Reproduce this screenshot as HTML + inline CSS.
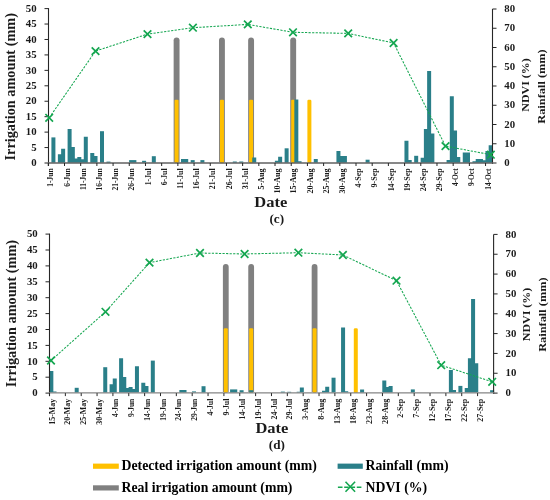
<!DOCTYPE html><html><head><meta charset="utf-8"><style>
html,body{margin:0;padding:0;background:#fff;width:550px;height:500px;overflow:hidden}
svg{display:block;will-change:transform}
text{font-family:'Liberation Serif', serif;font-weight:bold;fill:#1a1a1a}
.tl{font-size:10.8px}
.dl{font-size:7.5px}
.yt{font-size:14px}
.yt2{font-size:11px}
.dt{font-size:15px}
.cap{font-size:13.2px;font-weight:bold}
.lg{font-size:14px;fill:#000}
</style></head><body>
<svg width="550" height="500" viewBox="0 0 550 500">
<path d="M173.64 162.2 V40.35 A2.95 2.95 0 0 1 179.54 40.35 V162.2 Z" fill="#808080"/>
<rect x="174.59" y="99.8" width="4" height="63.4" rx="1" fill="#ffc000"/>
<path d="M218.99 162.2 V40.35 A2.95 2.95 0 0 1 224.89 40.35 V162.2 Z" fill="#808080"/>
<rect x="219.94" y="99.8" width="4" height="63.4" rx="1" fill="#ffc000"/>
<path d="M248.14 162.2 V40.35 A2.95 2.95 0 0 1 254.04 40.35 V162.2 Z" fill="#808080"/>
<rect x="249.09" y="99.8" width="4" height="63.4" rx="1" fill="#ffc000"/>
<path d="M290.24 162.2 V40.35 A2.95 2.95 0 0 1 296.14 40.35 V162.2 Z" fill="#808080"/>
<rect x="291.19" y="99.8" width="4" height="63.4" rx="1" fill="#ffc000"/>
<rect x="307.39" y="99.8" width="4" height="63.4" rx="1.2" fill="#ffc000"/>
<path d="M51.41 162.7V137.4H55.41V162.7Z" fill="#2a7f89"/>
<path d="M57.89 162.7V154.2H61.13V148.8H61.89V148.8H65.13V162.7Z" fill="#2a7f89"/>
<path d="M67.6 162.7V129H70.84V129H71.6V147H74.08V147H74.84V158.6H77.32V157.1H78.08V157.1H80.56V157.1H81.32V159.2H83.8V136.8H84.56V136.8H87.8V162.7Z" fill="#2a7f89"/>
<path d="M90.28 162.7V153H93.52V153H94.28V156H97.52V162.7Z" fill="#2a7f89"/>
<path d="M99.99 162.7V131.2H103.99V162.7Z" fill="#2a7f89"/>
<path d="M106.47 162.7V161.6H110.47V162.7Z" fill="#2a7f89"/>
<path d="M129.14 162.7V160.1H132.38V160.1H133.14V160.1H136.38V162.7Z" fill="#2a7f89"/>
<path d="M142.1 162.7V160.8H146.1V162.7Z" fill="#2a7f89"/>
<path d="M151.82 162.7V156.2H155.82V162.7Z" fill="#2a7f89"/>
<path d="M180.97 162.7V159H184.21V159H184.97V159H188.21V162.7Z" fill="#2a7f89"/>
<path d="M190.69 162.7V160.1H194.69V162.7Z" fill="#2a7f89"/>
<path d="M200.4 162.7V160.1H204.4V162.7Z" fill="#2a7f89"/>
<path d="M232.79 162.7V161.5H236.79V162.7Z" fill="#2a7f89"/>
<path d="M239.27 162.7V161.5H243.27V162.7Z" fill="#2a7f89"/>
<path d="M252.23 162.7V157.5H256.23V162.7Z" fill="#2a7f89"/>
<path d="M274.9 162.7V160.8H278.14V156.8H278.9V156.8H282.14V162.7Z" fill="#2a7f89"/>
<path d="M284.62 162.7V148.3H288.62V162.7Z" fill="#2a7f89"/>
<path d="M294.33 162.7V99.4H297.57V99.4H298.33V161.2H301.57V162.7Z" fill="#2a7f89"/>
<path d="M313.77 162.7V159H317.77V162.7Z" fill="#2a7f89"/>
<path d="M336.44 162.7V150.9H339.68V150.9H340.44V156.1H342.92V156.1H343.68V156.1H346.92V162.7Z" fill="#2a7f89"/>
<path d="M365.59 162.7V159.7H369.59V162.7Z" fill="#2a7f89"/>
<path d="M404.46 162.7V140.7H407.7V140.7H408.46V160H411.7V162.7Z" fill="#2a7f89"/>
<path d="M414.18 162.7V155.8H418.18V162.7Z" fill="#2a7f89"/>
<path d="M420.65 162.7V157.8H423.89V129H424.65V129H427.13V71.1H427.89V71.1H430.37V71.1H431.13V133.6H434.37V162.7Z" fill="#2a7f89"/>
<path d="M446.57 162.7V160H449.81V96.3H450.57V96.3H453.04V96.3H453.81V130.4H456.28V130.4H457.04V157.1H460.28V162.7Z" fill="#2a7f89"/>
<path d="M462.76 162.7V152.6H466V152.4H466.76V152.4H470V162.7Z" fill="#2a7f89"/>
<path d="M472.48 162.7V161.2H475.72V158.9H476.48V158.9H478.96V158.9H479.72V158.9H482.2V158.9H482.96V160.2H485.43V151.1H486.2V151.1H488.67V145.2H489.43V145.2H492.67V162.7Z" fill="#2a7f89"/>
<line x1="48.5" y1="8.1" x2="48.5" y2="166" stroke="#262626" stroke-width="1.1"/>
<line x1="492.5" y1="9" x2="492.5" y2="164" stroke="#262626" stroke-width="1.1"/>
<line x1="44.5" y1="163" x2="48.5" y2="163" stroke="#262626" stroke-width="1"/>
<text x="36.6" y="166.2" class="tl" text-anchor="end">0</text>
<line x1="44.5" y1="147.56" x2="48.5" y2="147.56" stroke="#262626" stroke-width="1"/>
<text x="36.6" y="150.76" class="tl" text-anchor="end">5</text>
<line x1="44.5" y1="132.12" x2="48.5" y2="132.12" stroke="#262626" stroke-width="1"/>
<text x="36.6" y="135.32" class="tl" text-anchor="end">10</text>
<line x1="44.5" y1="116.68" x2="48.5" y2="116.68" stroke="#262626" stroke-width="1"/>
<text x="36.6" y="119.88" class="tl" text-anchor="end">15</text>
<line x1="44.5" y1="101.24" x2="48.5" y2="101.24" stroke="#262626" stroke-width="1"/>
<text x="36.6" y="104.44" class="tl" text-anchor="end">20</text>
<line x1="44.5" y1="85.8" x2="48.5" y2="85.8" stroke="#262626" stroke-width="1"/>
<text x="36.6" y="89" class="tl" text-anchor="end">25</text>
<line x1="44.5" y1="70.36" x2="48.5" y2="70.36" stroke="#262626" stroke-width="1"/>
<text x="36.6" y="73.56" class="tl" text-anchor="end">30</text>
<line x1="44.5" y1="54.92" x2="48.5" y2="54.92" stroke="#262626" stroke-width="1"/>
<text x="36.6" y="58.12" class="tl" text-anchor="end">35</text>
<line x1="44.5" y1="39.48" x2="48.5" y2="39.48" stroke="#262626" stroke-width="1"/>
<text x="36.6" y="42.68" class="tl" text-anchor="end">40</text>
<line x1="44.5" y1="24.04" x2="48.5" y2="24.04" stroke="#262626" stroke-width="1"/>
<text x="36.6" y="27.24" class="tl" text-anchor="end">45</text>
<line x1="44.5" y1="8.6" x2="48.5" y2="8.6" stroke="#262626" stroke-width="1"/>
<text x="36.6" y="11.8" class="tl" text-anchor="end">50</text>
<line x1="492.5" y1="163" x2="496.5" y2="163" stroke="#262626" stroke-width="1"/>
<text x="504.3" y="166.2" class="tl">0</text>
<line x1="492.5" y1="143.75" x2="496.5" y2="143.75" stroke="#262626" stroke-width="1"/>
<text x="504.3" y="146.95" class="tl">10</text>
<line x1="492.5" y1="124.5" x2="496.5" y2="124.5" stroke="#262626" stroke-width="1"/>
<text x="504.3" y="127.7" class="tl">20</text>
<line x1="492.5" y1="105.25" x2="496.5" y2="105.25" stroke="#262626" stroke-width="1"/>
<text x="504.3" y="108.45" class="tl">30</text>
<line x1="492.5" y1="86" x2="496.5" y2="86" stroke="#262626" stroke-width="1"/>
<text x="504.3" y="89.2" class="tl">40</text>
<line x1="492.5" y1="66.75" x2="496.5" y2="66.75" stroke="#262626" stroke-width="1"/>
<text x="504.3" y="69.95" class="tl">50</text>
<line x1="492.5" y1="47.5" x2="496.5" y2="47.5" stroke="#262626" stroke-width="1"/>
<text x="504.3" y="50.7" class="tl">60</text>
<line x1="492.5" y1="28.25" x2="496.5" y2="28.25" stroke="#262626" stroke-width="1"/>
<text x="504.3" y="31.45" class="tl">70</text>
<line x1="492.5" y1="9" x2="496.5" y2="9" stroke="#262626" stroke-width="1"/>
<text x="504.3" y="12.2" class="tl">80</text>
<line x1="48" y1="163" x2="493" y2="163" stroke="#606060" stroke-width="1.5"/>
<line x1="48.3" y1="163" x2="48.3" y2="166" stroke="#262626" stroke-width="1"/>
<text transform="translate(53.4 168.4) rotate(-90) scale(1.0 1)" class="dl" text-anchor="end">1-Jun</text>
<line x1="64.5" y1="163" x2="64.5" y2="166" stroke="#262626" stroke-width="1"/>
<text transform="translate(69.59 168.4) rotate(-90) scale(1.0 1)" class="dl" text-anchor="end">6-Jun</text>
<line x1="80.69" y1="163" x2="80.69" y2="166" stroke="#262626" stroke-width="1"/>
<text transform="translate(85.79 168.4) rotate(-90) scale(1.0 1)" class="dl" text-anchor="end">11-Jun</text>
<line x1="96.88" y1="163" x2="96.88" y2="166" stroke="#262626" stroke-width="1"/>
<text transform="translate(101.98 168.4) rotate(-90) scale(1.0 1)" class="dl" text-anchor="end">16-Jun</text>
<line x1="113.08" y1="163" x2="113.08" y2="166" stroke="#262626" stroke-width="1"/>
<text transform="translate(118.18 168.4) rotate(-90) scale(1.0 1)" class="dl" text-anchor="end">21-Jun</text>
<line x1="129.27" y1="163" x2="129.27" y2="166" stroke="#262626" stroke-width="1"/>
<text transform="translate(134.37 168.4) rotate(-90) scale(1.0 1)" class="dl" text-anchor="end">26-Jun</text>
<line x1="145.47" y1="163" x2="145.47" y2="166" stroke="#262626" stroke-width="1"/>
<text transform="translate(150.57 168.4) rotate(-90) scale(1.04 1)" class="dl" text-anchor="end">1-Jul</text>
<line x1="161.66" y1="163" x2="161.66" y2="166" stroke="#262626" stroke-width="1"/>
<text transform="translate(166.76 168.4) rotate(-90) scale(1.04 1)" class="dl" text-anchor="end">6-Jul</text>
<line x1="177.86" y1="163" x2="177.86" y2="166" stroke="#262626" stroke-width="1"/>
<text transform="translate(182.96 168.4) rotate(-90) scale(1.04 1)" class="dl" text-anchor="end">11-Jul</text>
<line x1="194.06" y1="163" x2="194.06" y2="166" stroke="#262626" stroke-width="1"/>
<text transform="translate(199.16 168.4) rotate(-90) scale(1.04 1)" class="dl" text-anchor="end">16-Jul</text>
<line x1="210.25" y1="163" x2="210.25" y2="166" stroke="#262626" stroke-width="1"/>
<text transform="translate(215.35 168.4) rotate(-90) scale(1.04 1)" class="dl" text-anchor="end">21-Jul</text>
<line x1="226.44" y1="163" x2="226.44" y2="166" stroke="#262626" stroke-width="1"/>
<text transform="translate(231.54 168.4) rotate(-90) scale(1.04 1)" class="dl" text-anchor="end">26-Jul</text>
<line x1="242.64" y1="163" x2="242.64" y2="166" stroke="#262626" stroke-width="1"/>
<text transform="translate(247.74 168.4) rotate(-90) scale(1.04 1)" class="dl" text-anchor="end">31-Jul</text>
<line x1="258.83" y1="163" x2="258.83" y2="166" stroke="#262626" stroke-width="1"/>
<text transform="translate(263.94 168.4) rotate(-90) scale(1.08 1)" class="dl" text-anchor="end">5-Aug</text>
<line x1="275.03" y1="163" x2="275.03" y2="166" stroke="#262626" stroke-width="1"/>
<text transform="translate(280.13 168.4) rotate(-90) scale(1.08 1)" class="dl" text-anchor="end">10-Aug</text>
<line x1="291.22" y1="163" x2="291.22" y2="166" stroke="#262626" stroke-width="1"/>
<text transform="translate(296.32 168.4) rotate(-90) scale(1.08 1)" class="dl" text-anchor="end">15-Aug</text>
<line x1="307.42" y1="163" x2="307.42" y2="166" stroke="#262626" stroke-width="1"/>
<text transform="translate(312.52 168.4) rotate(-90) scale(1.08 1)" class="dl" text-anchor="end">20-Aug</text>
<line x1="323.62" y1="163" x2="323.62" y2="166" stroke="#262626" stroke-width="1"/>
<text transform="translate(328.72 168.4) rotate(-90) scale(1.08 1)" class="dl" text-anchor="end">25-Aug</text>
<line x1="339.81" y1="163" x2="339.81" y2="166" stroke="#262626" stroke-width="1"/>
<text transform="translate(344.91 168.4) rotate(-90) scale(1.08 1)" class="dl" text-anchor="end">30-Aug</text>
<line x1="356" y1="163" x2="356" y2="166" stroke="#262626" stroke-width="1"/>
<text transform="translate(361.11 168.4) rotate(-90) scale(1.06 1)" class="dl" text-anchor="end">4-Sep</text>
<line x1="372.2" y1="163" x2="372.2" y2="166" stroke="#262626" stroke-width="1"/>
<text transform="translate(377.3 168.4) rotate(-90) scale(1.06 1)" class="dl" text-anchor="end">9-Sep</text>
<line x1="388.39" y1="163" x2="388.39" y2="166" stroke="#262626" stroke-width="1"/>
<text transform="translate(393.5 168.4) rotate(-90) scale(1.06 1)" class="dl" text-anchor="end">14-Sep</text>
<line x1="404.59" y1="163" x2="404.59" y2="166" stroke="#262626" stroke-width="1"/>
<text transform="translate(409.69 168.4) rotate(-90) scale(1.06 1)" class="dl" text-anchor="end">19-Sep</text>
<line x1="420.79" y1="163" x2="420.79" y2="166" stroke="#262626" stroke-width="1"/>
<text transform="translate(425.89 168.4) rotate(-90) scale(1.06 1)" class="dl" text-anchor="end">24-Sep</text>
<line x1="436.98" y1="163" x2="436.98" y2="166" stroke="#262626" stroke-width="1"/>
<text transform="translate(442.08 168.4) rotate(-90) scale(1.06 1)" class="dl" text-anchor="end">29-Sep</text>
<line x1="453.18" y1="163" x2="453.18" y2="166" stroke="#262626" stroke-width="1"/>
<text transform="translate(458.28 168.4) rotate(-90) scale(0.99 1)" class="dl" text-anchor="end">4-Oct</text>
<line x1="469.37" y1="163" x2="469.37" y2="166" stroke="#262626" stroke-width="1"/>
<text transform="translate(474.47 168.4) rotate(-90) scale(0.99 1)" class="dl" text-anchor="end">9-Oct</text>
<line x1="485.56" y1="163" x2="485.56" y2="166" stroke="#262626" stroke-width="1"/>
<text transform="translate(490.67 168.4) rotate(-90) scale(0.99 1)" class="dl" text-anchor="end">14-Oct</text>
<path d="M49.2 117.8 L95.5 51.1 L147.5 34.1 L192.9 27.7 L247.8 24.4 L293 32.3 L348.2 33.4 L393.6 43 L445.5 146.1 L490.8 154.7" fill="none" stroke="#14a650" stroke-width="1.05" stroke-dasharray="2.2 1.35"/>
<path d="M45.4 114L53 121.6M45.4 121.6L53 114" stroke="#14a650" stroke-width="1.7" fill="none"/>
<path d="M91.7 47.3L99.3 54.9M91.7 54.9L99.3 47.3" stroke="#14a650" stroke-width="1.7" fill="none"/>
<path d="M143.7 30.3L151.3 37.9M143.7 37.9L151.3 30.3" stroke="#14a650" stroke-width="1.7" fill="none"/>
<path d="M189.1 23.9L196.7 31.5M189.1 31.5L196.7 23.9" stroke="#14a650" stroke-width="1.7" fill="none"/>
<path d="M244 20.6L251.6 28.2M244 28.2L251.6 20.6" stroke="#14a650" stroke-width="1.7" fill="none"/>
<path d="M289.2 28.5L296.8 36.1M289.2 36.1L296.8 28.5" stroke="#14a650" stroke-width="1.7" fill="none"/>
<path d="M344.4 29.6L352 37.2M344.4 37.2L352 29.6" stroke="#14a650" stroke-width="1.7" fill="none"/>
<path d="M389.8 39.2L397.4 46.8M389.8 46.8L397.4 39.2" stroke="#14a650" stroke-width="1.7" fill="none"/>
<path d="M441.7 142.3L449.3 149.9M441.7 149.9L449.3 142.3" stroke="#14a650" stroke-width="1.7" fill="none"/>
<path d="M487 150.9L494.6 158.5M487 158.5L494.6 150.9" stroke="#14a650" stroke-width="1.7" fill="none"/>
<text transform="translate(14.9 86.8) rotate(-90) scale(1.02 1)" class="yt" text-anchor="middle">Irrigation amount (mm)</text>
<text transform="translate(529.2 85) rotate(-90) scale(1.085 1)" class="yt2" text-anchor="middle">NDVI (%)</text>
<text transform="translate(544.6 86.5) rotate(-90) scale(1.125 1)" class="yt2" text-anchor="middle">Rainfall (mm)</text>
<text transform="translate(270.8 206.9) scale(1.1 1)" class="dt" text-anchor="middle">Date</text>
<text x="276.8" y="222.5" class="cap" text-anchor="middle">(c)</text>
<path d="M222.89 392.1 V266.9 A2.9 2.9 0 0 1 228.69 266.9 V392.1 Z" fill="#808080"/>
<rect x="223.79" y="328.3" width="4" height="64.8" rx="1" fill="#ffc000"/>
<path d="M248.26 392.1 V266.9 A2.9 2.9 0 0 1 254.06 266.9 V392.1 Z" fill="#808080"/>
<rect x="249.16" y="328.3" width="4" height="64.8" rx="1" fill="#ffc000"/>
<path d="M311.68 392.1 V266.9 A2.9 2.9 0 0 1 317.48 266.9 V392.1 Z" fill="#808080"/>
<rect x="312.58" y="328.3" width="4" height="64.8" rx="1" fill="#ffc000"/>
<rect x="353.8" y="328.3" width="4" height="64.8" rx="1.2" fill="#ffc000"/>
<path d="M49.34 392.6V371H52.51V371H53.34V391.4H56.51V392.6Z" fill="#2a7f89"/>
<path d="M74.7 392.6V387.8H78.7V392.6Z" fill="#2a7f89"/>
<path d="M103.24 392.6V367.2H107.24V392.6Z" fill="#2a7f89"/>
<path d="M109.58 392.6V384.2H112.76V378.4H113.58V378.4H116.76V392.6Z" fill="#2a7f89"/>
<path d="M119.1 392.6V358.2H122.27V358.2H123.1V377H125.44V377H126.27V388H128.61V387H129.44V387H131.78V387H132.61V389H134.95V366.2H135.78V366.2H138.95V392.6Z" fill="#2a7f89"/>
<path d="M141.29 392.6V382.8H144.47V382.8H145.29V386H148.47V392.6Z" fill="#2a7f89"/>
<path d="M150.81 392.6V360.6H154.81V392.6Z" fill="#2a7f89"/>
<path d="M179.35 392.6V390H182.52V390H183.35V390H186.52V392.6Z" fill="#2a7f89"/>
<path d="M192.03 392.6V391.4H196.03V392.6Z" fill="#2a7f89"/>
<path d="M201.54 392.6V386.2H205.54V392.6Z" fill="#2a7f89"/>
<path d="M230.08 392.6V389.4H233.25V389.4H234.08V389.4H237.25V392.6Z" fill="#2a7f89"/>
<path d="M239.6 392.6V390.2H243.6V392.6Z" fill="#2a7f89"/>
<path d="M249.11 392.6V390.2H253.11V392.6Z" fill="#2a7f89"/>
<path d="M280.82 392.6V391.6H284.82V392.6Z" fill="#2a7f89"/>
<path d="M287.16 392.6V391.8H291.16V392.6Z" fill="#2a7f89"/>
<path d="M296.67 392.6V391.8H299.84V387.4H300.67V387.4H303.84V392.6Z" fill="#2a7f89"/>
<path d="M322.04 392.6V390.8H325.21V386.7H326.04V386.7H329.21V392.6Z" fill="#2a7f89"/>
<path d="M331.55 392.6V377.7H335.55V392.6Z" fill="#2a7f89"/>
<path d="M341.07 392.6V327.5H344.24V327.5H345.07V391.2H348.24V392.6Z" fill="#2a7f89"/>
<path d="M360.09 392.6V389.5H364.09V392.6Z" fill="#2a7f89"/>
<path d="M382.29 392.6V380.6H385.46V380.6H386.29V387H388.63V386H389.46V386H392.63V392.6Z" fill="#2a7f89"/>
<path d="M410.83 392.6V389.4H414.83V392.6Z" fill="#2a7f89"/>
<path d="M448.88 392.6V370H452.05V370H452.88V390H456.05V392.6Z" fill="#2a7f89"/>
<path d="M458.39 392.6V385.9H462.39V392.6Z" fill="#2a7f89"/>
<path d="M464.74 392.6V388.1H467.91V358.2H468.74V358.2H471.08V298.9H471.91V298.9H474.25V298.9H475.08V363.2H478.25V392.6Z" fill="#2a7f89"/>
<path d="M490.1 392.6V390.2H494.1V392.6Z" fill="#2a7f89"/>
<line x1="49.5" y1="233.6" x2="49.5" y2="396.1" stroke="#262626" stroke-width="1.1"/>
<line x1="493.6" y1="234.4" x2="493.6" y2="394.1" stroke="#262626" stroke-width="1.1"/>
<line x1="45.5" y1="393.1" x2="49.5" y2="393.1" stroke="#262626" stroke-width="1"/>
<text x="37.7" y="396.3" class="tl" text-anchor="end">0</text>
<line x1="45.5" y1="377.2" x2="49.5" y2="377.2" stroke="#262626" stroke-width="1"/>
<text x="37.7" y="380.4" class="tl" text-anchor="end">5</text>
<line x1="45.5" y1="361.3" x2="49.5" y2="361.3" stroke="#262626" stroke-width="1"/>
<text x="37.7" y="364.5" class="tl" text-anchor="end">10</text>
<line x1="45.5" y1="345.4" x2="49.5" y2="345.4" stroke="#262626" stroke-width="1"/>
<text x="37.7" y="348.6" class="tl" text-anchor="end">15</text>
<line x1="45.5" y1="329.5" x2="49.5" y2="329.5" stroke="#262626" stroke-width="1"/>
<text x="37.7" y="332.7" class="tl" text-anchor="end">20</text>
<line x1="45.5" y1="313.6" x2="49.5" y2="313.6" stroke="#262626" stroke-width="1"/>
<text x="37.7" y="316.8" class="tl" text-anchor="end">25</text>
<line x1="45.5" y1="297.7" x2="49.5" y2="297.7" stroke="#262626" stroke-width="1"/>
<text x="37.7" y="300.9" class="tl" text-anchor="end">30</text>
<line x1="45.5" y1="281.8" x2="49.5" y2="281.8" stroke="#262626" stroke-width="1"/>
<text x="37.7" y="285" class="tl" text-anchor="end">35</text>
<line x1="45.5" y1="265.9" x2="49.5" y2="265.9" stroke="#262626" stroke-width="1"/>
<text x="37.7" y="269.1" class="tl" text-anchor="end">40</text>
<line x1="45.5" y1="250" x2="49.5" y2="250" stroke="#262626" stroke-width="1"/>
<text x="37.7" y="253.2" class="tl" text-anchor="end">45</text>
<line x1="45.5" y1="234.1" x2="49.5" y2="234.1" stroke="#262626" stroke-width="1"/>
<text x="37.7" y="237.3" class="tl" text-anchor="end">50</text>
<line x1="493.6" y1="393.1" x2="497.6" y2="393.1" stroke="#262626" stroke-width="1"/>
<text x="505.5" y="396.3" class="tl">0</text>
<line x1="493.6" y1="373.26" x2="497.6" y2="373.26" stroke="#262626" stroke-width="1"/>
<text x="505.5" y="376.46" class="tl">10</text>
<line x1="493.6" y1="353.43" x2="497.6" y2="353.43" stroke="#262626" stroke-width="1"/>
<text x="505.5" y="356.62" class="tl">20</text>
<line x1="493.6" y1="333.59" x2="497.6" y2="333.59" stroke="#262626" stroke-width="1"/>
<text x="505.5" y="336.79" class="tl">30</text>
<line x1="493.6" y1="313.75" x2="497.6" y2="313.75" stroke="#262626" stroke-width="1"/>
<text x="505.5" y="316.95" class="tl">40</text>
<line x1="493.6" y1="293.91" x2="497.6" y2="293.91" stroke="#262626" stroke-width="1"/>
<text x="505.5" y="297.11" class="tl">50</text>
<line x1="493.6" y1="274.08" x2="497.6" y2="274.08" stroke="#262626" stroke-width="1"/>
<text x="505.5" y="277.28" class="tl">60</text>
<line x1="493.6" y1="254.24" x2="497.6" y2="254.24" stroke="#262626" stroke-width="1"/>
<text x="505.5" y="257.44" class="tl">70</text>
<line x1="493.6" y1="234.4" x2="497.6" y2="234.4" stroke="#262626" stroke-width="1"/>
<text x="505.5" y="237.6" class="tl">80</text>
<line x1="49" y1="392.9" x2="494.1" y2="392.9" stroke="#858585" stroke-width="1.4"/>
<line x1="49.5" y1="393.1" x2="49.5" y2="396.1" stroke="#262626" stroke-width="1"/>
<text transform="translate(54.6 398.7) rotate(-90) scale(1.06 1)" class="dl" text-anchor="end">15-May</text>
<line x1="65.36" y1="393.1" x2="65.36" y2="396.1" stroke="#262626" stroke-width="1"/>
<text transform="translate(70.45 398.7) rotate(-90) scale(1.06 1)" class="dl" text-anchor="end">20-May</text>
<line x1="81.21" y1="393.1" x2="81.21" y2="396.1" stroke="#262626" stroke-width="1"/>
<text transform="translate(86.31 398.7) rotate(-90) scale(1.06 1)" class="dl" text-anchor="end">25-May</text>
<line x1="97.06" y1="393.1" x2="97.06" y2="396.1" stroke="#262626" stroke-width="1"/>
<text transform="translate(102.16 398.7) rotate(-90) scale(1.06 1)" class="dl" text-anchor="end">30-May</text>
<line x1="112.92" y1="393.1" x2="112.92" y2="396.1" stroke="#262626" stroke-width="1"/>
<text transform="translate(118.02 398.7) rotate(-90) scale(1.0 1)" class="dl" text-anchor="end">4-Jun</text>
<line x1="128.77" y1="393.1" x2="128.77" y2="396.1" stroke="#262626" stroke-width="1"/>
<text transform="translate(133.87 398.7) rotate(-90) scale(1.0 1)" class="dl" text-anchor="end">9-Jun</text>
<line x1="144.63" y1="393.1" x2="144.63" y2="396.1" stroke="#262626" stroke-width="1"/>
<text transform="translate(149.73 398.7) rotate(-90) scale(1.0 1)" class="dl" text-anchor="end">14-Jun</text>
<line x1="160.49" y1="393.1" x2="160.49" y2="396.1" stroke="#262626" stroke-width="1"/>
<text transform="translate(165.59 398.7) rotate(-90) scale(1.0 1)" class="dl" text-anchor="end">19-Jun</text>
<line x1="176.34" y1="393.1" x2="176.34" y2="396.1" stroke="#262626" stroke-width="1"/>
<text transform="translate(181.44 398.7) rotate(-90) scale(1.0 1)" class="dl" text-anchor="end">24-Jun</text>
<line x1="192.19" y1="393.1" x2="192.19" y2="396.1" stroke="#262626" stroke-width="1"/>
<text transform="translate(197.29 398.7) rotate(-90) scale(1.0 1)" class="dl" text-anchor="end">29-Jun</text>
<line x1="208.05" y1="393.1" x2="208.05" y2="396.1" stroke="#262626" stroke-width="1"/>
<text transform="translate(213.15 398.7) rotate(-90) scale(1.04 1)" class="dl" text-anchor="end">4-Jul</text>
<line x1="223.91" y1="393.1" x2="223.91" y2="396.1" stroke="#262626" stroke-width="1"/>
<text transform="translate(229 398.7) rotate(-90) scale(1.04 1)" class="dl" text-anchor="end">9-Jul</text>
<line x1="239.76" y1="393.1" x2="239.76" y2="396.1" stroke="#262626" stroke-width="1"/>
<text transform="translate(244.86 398.7) rotate(-90) scale(1.04 1)" class="dl" text-anchor="end">14-Jul</text>
<line x1="255.61" y1="393.1" x2="255.61" y2="396.1" stroke="#262626" stroke-width="1"/>
<text transform="translate(260.71 398.7) rotate(-90) scale(1.04 1)" class="dl" text-anchor="end">19-Jul</text>
<line x1="271.47" y1="393.1" x2="271.47" y2="396.1" stroke="#262626" stroke-width="1"/>
<text transform="translate(276.57 398.7) rotate(-90) scale(1.04 1)" class="dl" text-anchor="end">24-Jul</text>
<line x1="287.32" y1="393.1" x2="287.32" y2="396.1" stroke="#262626" stroke-width="1"/>
<text transform="translate(292.43 398.7) rotate(-90) scale(1.04 1)" class="dl" text-anchor="end">29-Jul</text>
<line x1="303.18" y1="393.1" x2="303.18" y2="396.1" stroke="#262626" stroke-width="1"/>
<text transform="translate(308.28 398.7) rotate(-90) scale(1.08 1)" class="dl" text-anchor="end">3-Aug</text>
<line x1="319.03" y1="393.1" x2="319.03" y2="396.1" stroke="#262626" stroke-width="1"/>
<text transform="translate(324.13 398.7) rotate(-90) scale(1.08 1)" class="dl" text-anchor="end">8-Aug</text>
<line x1="334.89" y1="393.1" x2="334.89" y2="396.1" stroke="#262626" stroke-width="1"/>
<text transform="translate(339.99 398.7) rotate(-90) scale(1.08 1)" class="dl" text-anchor="end">13-Aug</text>
<line x1="350.75" y1="393.1" x2="350.75" y2="396.1" stroke="#262626" stroke-width="1"/>
<text transform="translate(355.85 398.7) rotate(-90) scale(1.08 1)" class="dl" text-anchor="end">18-Aug</text>
<line x1="366.6" y1="393.1" x2="366.6" y2="396.1" stroke="#262626" stroke-width="1"/>
<text transform="translate(371.7 398.7) rotate(-90) scale(1.08 1)" class="dl" text-anchor="end">23-Aug</text>
<line x1="382.45" y1="393.1" x2="382.45" y2="396.1" stroke="#262626" stroke-width="1"/>
<text transform="translate(387.56 398.7) rotate(-90) scale(1.08 1)" class="dl" text-anchor="end">28-Aug</text>
<line x1="398.31" y1="393.1" x2="398.31" y2="396.1" stroke="#262626" stroke-width="1"/>
<text transform="translate(403.41 398.7) rotate(-90) scale(1.06 1)" class="dl" text-anchor="end">2-Sep</text>
<line x1="414.16" y1="393.1" x2="414.16" y2="396.1" stroke="#262626" stroke-width="1"/>
<text transform="translate(419.26 398.7) rotate(-90) scale(1.06 1)" class="dl" text-anchor="end">7-Sep</text>
<line x1="430.02" y1="393.1" x2="430.02" y2="396.1" stroke="#262626" stroke-width="1"/>
<text transform="translate(435.12 398.7) rotate(-90) scale(1.06 1)" class="dl" text-anchor="end">12-Sep</text>
<line x1="445.88" y1="393.1" x2="445.88" y2="396.1" stroke="#262626" stroke-width="1"/>
<text transform="translate(450.98 398.7) rotate(-90) scale(1.06 1)" class="dl" text-anchor="end">17-Sep</text>
<line x1="461.73" y1="393.1" x2="461.73" y2="396.1" stroke="#262626" stroke-width="1"/>
<text transform="translate(466.83 398.7) rotate(-90) scale(1.06 1)" class="dl" text-anchor="end">22-Sep</text>
<line x1="477.58" y1="393.1" x2="477.58" y2="396.1" stroke="#262626" stroke-width="1"/>
<text transform="translate(482.69 398.7) rotate(-90) scale(1.06 1)" class="dl" text-anchor="end">27-Sep</text>
<path d="M51 360.5 L105.5 311.8 L149.5 262.6 L200 253 L244.6 254 L298.4 252.7 L342.9 255 L396.5 280.7 L441.2 365.2 L492.2 381.8" fill="none" stroke="#14a650" stroke-width="1.05" stroke-dasharray="2.2 1.35"/>
<path d="M47.2 356.7L54.8 364.3M47.2 364.3L54.8 356.7" stroke="#14a650" stroke-width="1.7" fill="none"/>
<path d="M101.7 308L109.3 315.6M101.7 315.6L109.3 308" stroke="#14a650" stroke-width="1.7" fill="none"/>
<path d="M145.7 258.8L153.3 266.4M145.7 266.4L153.3 258.8" stroke="#14a650" stroke-width="1.7" fill="none"/>
<path d="M196.2 249.2L203.8 256.8M196.2 256.8L203.8 249.2" stroke="#14a650" stroke-width="1.7" fill="none"/>
<path d="M240.8 250.2L248.4 257.8M240.8 257.8L248.4 250.2" stroke="#14a650" stroke-width="1.7" fill="none"/>
<path d="M294.6 248.9L302.2 256.5M294.6 256.5L302.2 248.9" stroke="#14a650" stroke-width="1.7" fill="none"/>
<path d="M339.1 251.2L346.7 258.8M339.1 258.8L346.7 251.2" stroke="#14a650" stroke-width="1.7" fill="none"/>
<path d="M392.7 276.9L400.3 284.5M392.7 284.5L400.3 276.9" stroke="#14a650" stroke-width="1.7" fill="none"/>
<path d="M437.4 361.4L445 369M437.4 369L445 361.4" stroke="#14a650" stroke-width="1.7" fill="none"/>
<path d="M488.4 378L496 385.6M488.4 385.6L496 378" stroke="#14a650" stroke-width="1.7" fill="none"/>
<text transform="translate(16.2 313.6) rotate(-90) scale(1.02 1)" class="yt" text-anchor="middle">Irrigation amount (mm)</text>
<text transform="translate(530.3 314.5) rotate(-90) scale(1.085 1)" class="yt2" text-anchor="middle">NDVI (%)</text>
<text transform="translate(545.7 314.6) rotate(-90) scale(1.125 1)" class="yt2" text-anchor="middle">Rainfall (mm)</text>
<text transform="translate(271.9 432.5) scale(1.1 1)" class="dt" text-anchor="middle">Date</text>
<text x="276.8" y="449.3" class="cap" text-anchor="middle">(d)</text>
<rect x="93" y="463.6" width="25.8" height="5.2" fill="#ffc000"/>
<text transform="translate(121.5 469.8) scale(0.985 1)" class="lg">Detected irrigation amount (mm)</text>
<rect x="93" y="485.3" width="25.8" height="5.2" fill="#808080"/>
<text transform="translate(121.5 491.5) scale(0.985 1)" class="lg">Real irrigation amount (mm)</text>
<rect x="337.6" y="463.6" width="25.2" height="5.2" fill="#2a7f89"/>
<text transform="translate(365.5 469.8) scale(0.985 1)" class="lg">Rainfall (mm)</text>
<path d="M337.9 487.3H361.8" stroke="#14a650" stroke-width="1.4" stroke-dasharray="4.6 1.7"/>
<path d="M345.5 481.7L355.1 491.7M345.5 491.7L355.1 481.7" stroke="#14a650" stroke-width="1.6"/>
<text transform="translate(365.5 491.5) scale(0.985 1)" class="lg">NDVI (%)</text>
</svg></body></html>
